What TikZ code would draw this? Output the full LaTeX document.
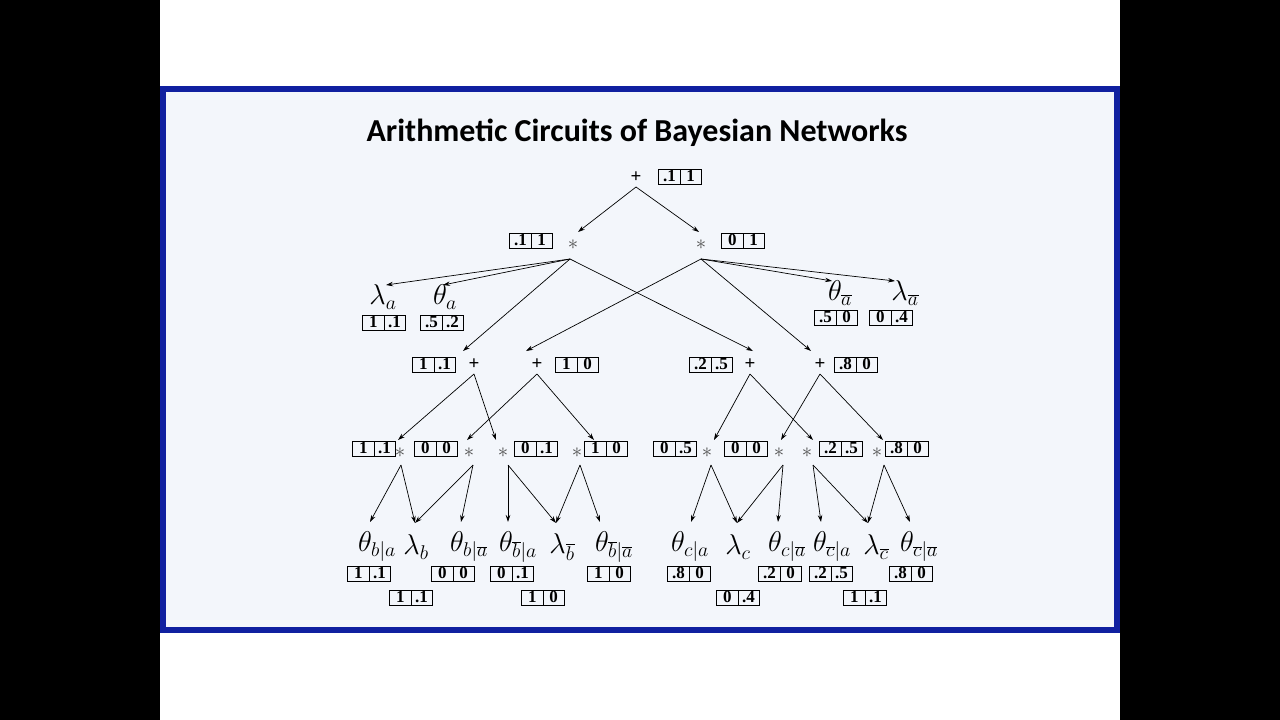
\documentclass[tikz,border=0pt]{standalone}
\usepackage{fontspec}
\setmainfont{Liberation Serif}
\newfontfamily\titlefont{Carlito}
\usetikzlibrary{arrows.meta}
\definecolor{frameblue}{HTML}{1020A0}
\definecolor{slidebg}{HTML}{F3F6FB}
\newcommand\bx[2]{{\setlength\fboxsep{0pt}\setlength\fboxrule{0.8pt}\fontsize{17}{17}\selectfont\bfseries\framebox[22pt]{\rule[-3pt]{0pt}{14pt}#1}\hspace{-0.8pt}\framebox[22pt]{\rule[-3pt]{0pt}{14pt}#2}}}
\newcommand\lbl[1]{\scalebox{1.15}{\fontsize{24}{24}\selectfont$#1$}}
\begin{document}
\begin{tikzpicture}[x=1pt,y=-1pt,
  ar/.style={-{Stealth[length=7pt,width=4.5pt]},line width=0.7pt},
  op/.style={font=\fontsize{19}{19}\selectfont\bfseries,inner sep=0pt},
  st/.style={font=\fontsize{20}{20}\selectfont,inner sep=0pt,text=black!70},
  vb/.style={inner sep=0pt},
  lab/.style={inner sep=0pt}]
\useasboundingbox (0,0) rectangle (1280,720);
\fill[black] (0,0) rectangle (1280,720);
\fill[white] (160,0) rectangle (1120,720);
\draw[frameblue,line width=6pt,fill=slidebg] (163,89) rectangle (1117,630);
\node (title) at (637,133) {\titlefont\fontsize{32}{32}\selectfont\bfseries Arithmetic Circuits of Bayesian Networks};
% root
\node[op] (r) at (636,177) {+};
\node[vb] (rb) at (680,177) {\bx{.1}{1}};
% level 1
\node[vb] (l1b) at (531,241) {\bx{.1}{1}};
\node[st] (l1) at (573,245) {$\ast$};
\node[st] (r1) at (701,245) {$\ast$};
\node[vb] (r1b) at (743,241) {\bx{0}{1}};
\coordinate (l1o) at (570,259);
\coordinate (r1o) at (701,259);
\draw[ar] (636,187) -- (578,232);
\draw[ar] (636,187) -- (699,232);
% a leaves
\node[lab] (la) at (383,297) {\lbl{\lambda_a}};
\node[lab] (ta) at (445,297) {\lbl{\theta_a}};
\node[vb] (lab) at (384,323) {\bx{1}{.1}};
\node[vb] (tab) at (442,323) {\bx{.5}{.2}};
\node[lab] (tna) at (840,293) {\lbl{\theta_{\overline{a}}}};
\node[lab] (lna) at (905,293) {\lbl{\lambda_{\overline{a}}}};
\node[vb] (tnab) at (836,318) {\bx{.5}{0}};
\node[vb] (lnab) at (891,318) {\bx{0}{.4}};
% level 2
\node[vb] (p1b) at (434,365) {\bx{1}{.1}};
\node[op] (p1) at (474,364) {+};
\node[op] (p2) at (537,364) {+};
\node[vb] (p2b) at (577,365) {\bx{1}{0}};
\node[vb] (p3b) at (711,365) {\bx{.2}{.5}};
\node[op] (p3) at (750,364) {+};
\node[op] (p4) at (820,364) {+};
\node[vb] (p4b) at (856,365) {\bx{.8}{0}};
\draw[ar] (l1o) -- (386,285);
\draw[ar] (l1o) -- (443,285);
\draw[ar] (l1o) -- (463,351);
\draw[ar] (l1o) -- (753,351);
\draw[ar] (r1o) -- (526,351);
\draw[ar] (r1o) -- (811,351);
\draw[ar] (r1o) -- (832,281);
\draw[ar] (r1o) -- (895,281);
% level 3
\node[vb] (m1b) at (374,449) {\bx{1}{.1}};
\node[st] (m1) at (400,453) {$\ast$};
\node[vb] (m2b) at (436,449) {\bx{0}{0}};
\node[st] (m2) at (469,453) {$\ast$};
\node[st] (m3) at (503,453) {$\ast$};
\node[vb] (m3b) at (536,449) {\bx{0}{.1}};
\node[st] (m4) at (577,453) {$\ast$};
\node[vb] (m4b) at (606,449) {\bx{1}{0}};
\node[vb] (n1b) at (675,449) {\bx{0}{.5}};
\node[st] (n1) at (707,453) {$\ast$};
\node[vb] (n2b) at (746,449) {\bx{0}{0}};
\node[st] (n2) at (779,453) {$\ast$};
\node[st] (n3) at (807,453) {$\ast$};
\node[vb] (n3b) at (841,449) {\bx{.2}{.5}};
\node[st] (n4) at (877,453) {$\ast$};
\node[vb] (n4b) at (907,449) {\bx{.8}{0}};
\draw[ar] (474,374) -- (398,440);
\draw[ar] (474,374) -- (496,440);
\draw[ar] (537,374) -- (467,440);
\draw[ar] (537,374) -- (594,440);
\draw[ar] (750,374) -- (714,440);
\draw[ar] (750,374) -- (813,440);
\draw[ar] (820,374) -- (781,440);
\draw[ar] (820,374) -- (883,440);
% leaves b
\node[lab] (tba) at (377,547) {\lbl{\theta_{b|a}}};
\node[lab] (lb) at (416,547) {\lbl{\lambda_b}};
\node[lab] (tbna) at (469,547) {\lbl{\theta_{b|\overline{a}}}};
\node[lab] (tnba) at (518,547) {\lbl{\theta_{\overline{b}|a}}};
\node[lab] (lnb) at (562,547) {\lbl{\lambda_{\overline{b}}}};
\node[lab] (tnbna) at (614,547) {\lbl{\theta_{\overline{b}|\overline{a}}}};
\node[vb] (tbab) at (369,574) {\bx{1}{.1}};
\node[vb] (tbnab) at (453,574) {\bx{0}{0}};
\node[vb] (tnbab) at (512,574) {\bx{0}{.1}};
\node[vb] (tnbnab) at (609,574) {\bx{1}{0}};
\node[vb] (lbb) at (411,598) {\bx{1}{.1}};
\node[vb] (lnbb) at (543,598) {\bx{1}{0}};
\draw[ar] (401,465) -- (370,522);
\draw[ar] (401,465) -- (415,523);
\draw[ar] (473,465) -- (415,523);
\draw[ar] (473,465) -- (461,522);
\draw[ar] (508,465) -- (508,522);
\draw[ar] (508,465) -- (556,523);
\draw[ar] (580,465) -- (556,523);
\draw[ar] (580,465) -- (600,522);
% leaves c
\node[lab] (tca) at (690,547) {\lbl{\theta_{c|a}}};
\node[lab] (lc) at (738,547) {\lbl{\lambda_c}};
\node[lab] (tcna) at (787,547) {\lbl{\theta_{c|\overline{a}}}};
\node[lab] (tnca) at (832,547) {\lbl{\theta_{\overline{c}|a}}};
\node[lab] (lnc) at (876,547) {\lbl{\lambda_{\overline{c}}}};
\node[lab] (tncna) at (919,547) {\lbl{\theta_{\overline{c}|\overline{a}}}};
\node[vb] (tcab) at (689,574) {\bx{.8}{0}};
\node[vb] (tcnab) at (780,574) {\bx{.2}{0}};
\node[vb] (tncab) at (831,574) {\bx{.2}{.5}};
\node[vb] (tncnab) at (911,574) {\bx{.8}{0}};
\node[vb] (lcb) at (738,598) {\bx{0}{.4}};
\node[vb] (lncb) at (865,598) {\bx{1}{.1}};
\draw[ar] (711,465) -- (691,522);
\draw[ar] (711,465) -- (737,523);
\draw[ar] (783,465) -- (737,523);
\draw[ar] (783,465) -- (778,522);
\draw[ar] (813,465) -- (821,522);
\draw[ar] (813,465) -- (868,523);
\draw[ar] (884,465) -- (868,523);
\draw[ar] (884,465) -- (910,522);
\end{tikzpicture}
\end{document}
